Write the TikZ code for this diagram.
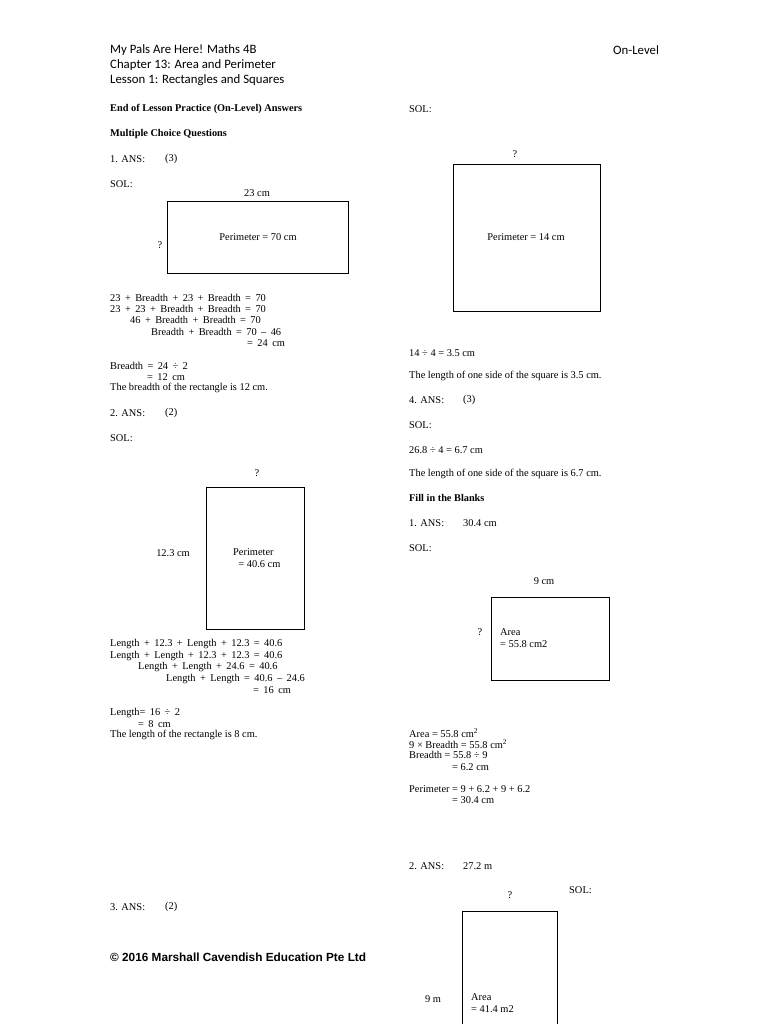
\documentclass[tikz,border=0pt]{standalone}
\usepackage{fontspec}
\setmainfont{Liberation Serif}
\newfontfamily\hdr{Carlito}
\newfontfamily\ftr{Liberation Sans}
\newcommand\widesp{\spaceskip 4.4pt plus 1pt\relax}
\begin{document}
\begin{tikzpicture}[x=1pt,y=-1pt,
  t/.style={anchor=west,inner sep=0pt,font=\fontsize{10.4}{11.5}\selectfont},
  eq/.style={t,font=\fontsize{10.4}{11.5}\selectfont\widesp},
  c/.style={inner sep=0pt,font=\fontsize{10.4}{11.5}\selectfont},
  b/.style={t,font=\fontsize{10.3}{11.5}\selectfont\bfseries},
  h/.style={anchor=west,inner sep=0pt,font=\hdr\fontsize{12.8}{15}\selectfont},
  box/.style={draw,line width=0.8pt}]
\useasboundingbox (0,0) rectangle (768,1024);
% header
\node[h] (h1) at (110,50) {My Pals Are Here! Maths 4B};
\node[h] (h2) at (110,65) {Chapter 13: Area and Perimeter};
\node[h] (h3) at (110,80) {Lesson 1: Rectangles and Squares};
\node[h] (h4) at (613,50) {On-Level};
% left column
\node[b] (l1) at (110,109) {End of Lesson Practice (On-Level) Answers};
\node[b] (l2) at (110,134) {Multiple Choice Questions};
\node[t] (l3) at (110,159) {1. ANS:};
\node[t] (l3a) at (165,159) {(3)};
\node[t] (l4) at (110,184) {SOL:};
\node[c] (d1) at (257,193) {23 cm};
\draw[box] (167,201) rectangle (348,273);
\node[c] (p1) at (258,237) {Perimeter = 70 cm};
\node[c] (q1) at (160,245) {?};
\node[eq] (e1) at (110,298) {23 + Breadth + 23 + Breadth = 70};
\node[eq] (e2) at (110,309) {23 + 23 + Breadth + Breadth = 70};
\node[eq] (e3) at (130,320) {46 + Breadth + Breadth = 70};
\node[eq] (e4) at (151,332) {Breadth + Breadth = 70 -- 46};
\node[eq] (e5) at (247,343) {= 24 cm};
\node[eq] (e6) at (110,366) {Breadth = 24 ÷ 2};
\node[eq] (e7) at (147,377) {= 12 cm};
\node[t] (e8) at (110,388) {The breadth of the rectangle is 12 cm.};
\node[t] (l5) at (110,413) {2. ANS:};
\node[t] (l5a) at (165,413) {(2)};
\node[t] (l6) at (110,438) {SOL:};
\node[c] (q2) at (257,473) {?};
\draw[box] (206,487) rectangle (304,629);
\node[c] (d2) at (173,553) {12.3 cm};
\node[t,align=left] (p2) at (233,558) {Perimeter\\\ \ = 40.6 cm};
\node[eq] (f1) at (110,644) {Length + 12.3 + Length + 12.3 = 40.6};
\node[eq] (f2) at (110,656) {Length + Length + 12.3 + 12.3 = 40.6};
\node[eq] (f3) at (138,667) {Length + Length + 24.6 = 40.6};
\node[eq] (f4) at (166,679) {Length + Length = 40.6 -- 24.6};
\node[eq] (f5) at (253,690) {= 16 cm};
\node[eq] (f6) at (110,713) {Length= 16 ÷ 2};
\node[eq] (f7) at (138,724) {= 8 cm};
\node[t] (f8) at (110,735) {The length of the rectangle is 8 cm.};
\node[t] (l7) at (110,907) {3. ANS:};
\node[t] (l7a) at (165,907) {(2)};
\node[anchor=west,inner sep=0pt,font=\ftr\bfseries\fontsize{11.8}{13}\selectfont] (ft) at (110,957) {© 2016 Marshall Cavendish Education Pte Ltd};
% right column
\node[t] (r1) at (409,109) {SOL:};
\node[c] (q3) at (515,154) {?};
\draw[box] (453,164) rectangle (600,311);
\node[c] (p3) at (526,237) {Perimeter = 14 cm};
\node[t] (g1) at (409,353) {14 ÷ 4 = 3.5 cm};
\node[t] (g2) at (409,376) {The length of one side of the square is 3.5 cm.};
\node[t] (r2) at (409,400) {4. ANS:};
\node[t] (r2a) at (463,400) {(3)};
\node[t] (r3) at (409,425) {SOL:};
\node[t] (g3) at (409,450) {26.8 ÷ 4 = 6.7 cm};
\node[t] (g4) at (409,474) {The length of one side of the square is 6.7 cm.};
\node[b] (r4) at (409,498) {Fill in the Blanks};
\node[t] (r5) at (409,523) {1. ANS:};
\node[t] (r5a) at (463,523) {30.4 cm};
\node[t] (r6) at (409,548) {SOL:};
\node[c] (d4) at (544,581) {9 cm};
\draw[box] (491,597) rectangle (609,680);
\node[c] (q4) at (480,632) {?};
\node[t,align=left] (a4) at (500,638) {Area\\= 55.8 cm2};
\node[t] (k1) at (409,733) {Area = 55.8 cm\textsuperscript{2}};
\node[t] (k2) at (409,744) {9 × Breadth = 55.8 cm\textsuperscript{2}};
\node[t] (k3) at (409,755) {Breadth = 55.8 ÷ 9};
\node[t] (k4) at (452,767) {= 6.2 cm};
\node[t] (k5) at (409,789) {Perimeter = 9 + 6.2 + 9 + 6.2};
\node[t] (k6) at (452,800) {= 30.4 cm};
\node[t] (r7) at (409,866) {2. ANS:};
\node[t] (r7a) at (463,866) {27.2 m};
\node[c] (q5) at (510,895) {?};
\node[t] (r8) at (569,890) {SOL:};
\draw[box] (557,1030) -- (557,911) -- (462,911) -- (462,1030);
\node[c] (d5) at (433,999) {9 m};
\node[t,align=left] (a5) at (471,1003) {Area\\= 41.4 m2};
\end{tikzpicture}
\end{document}
